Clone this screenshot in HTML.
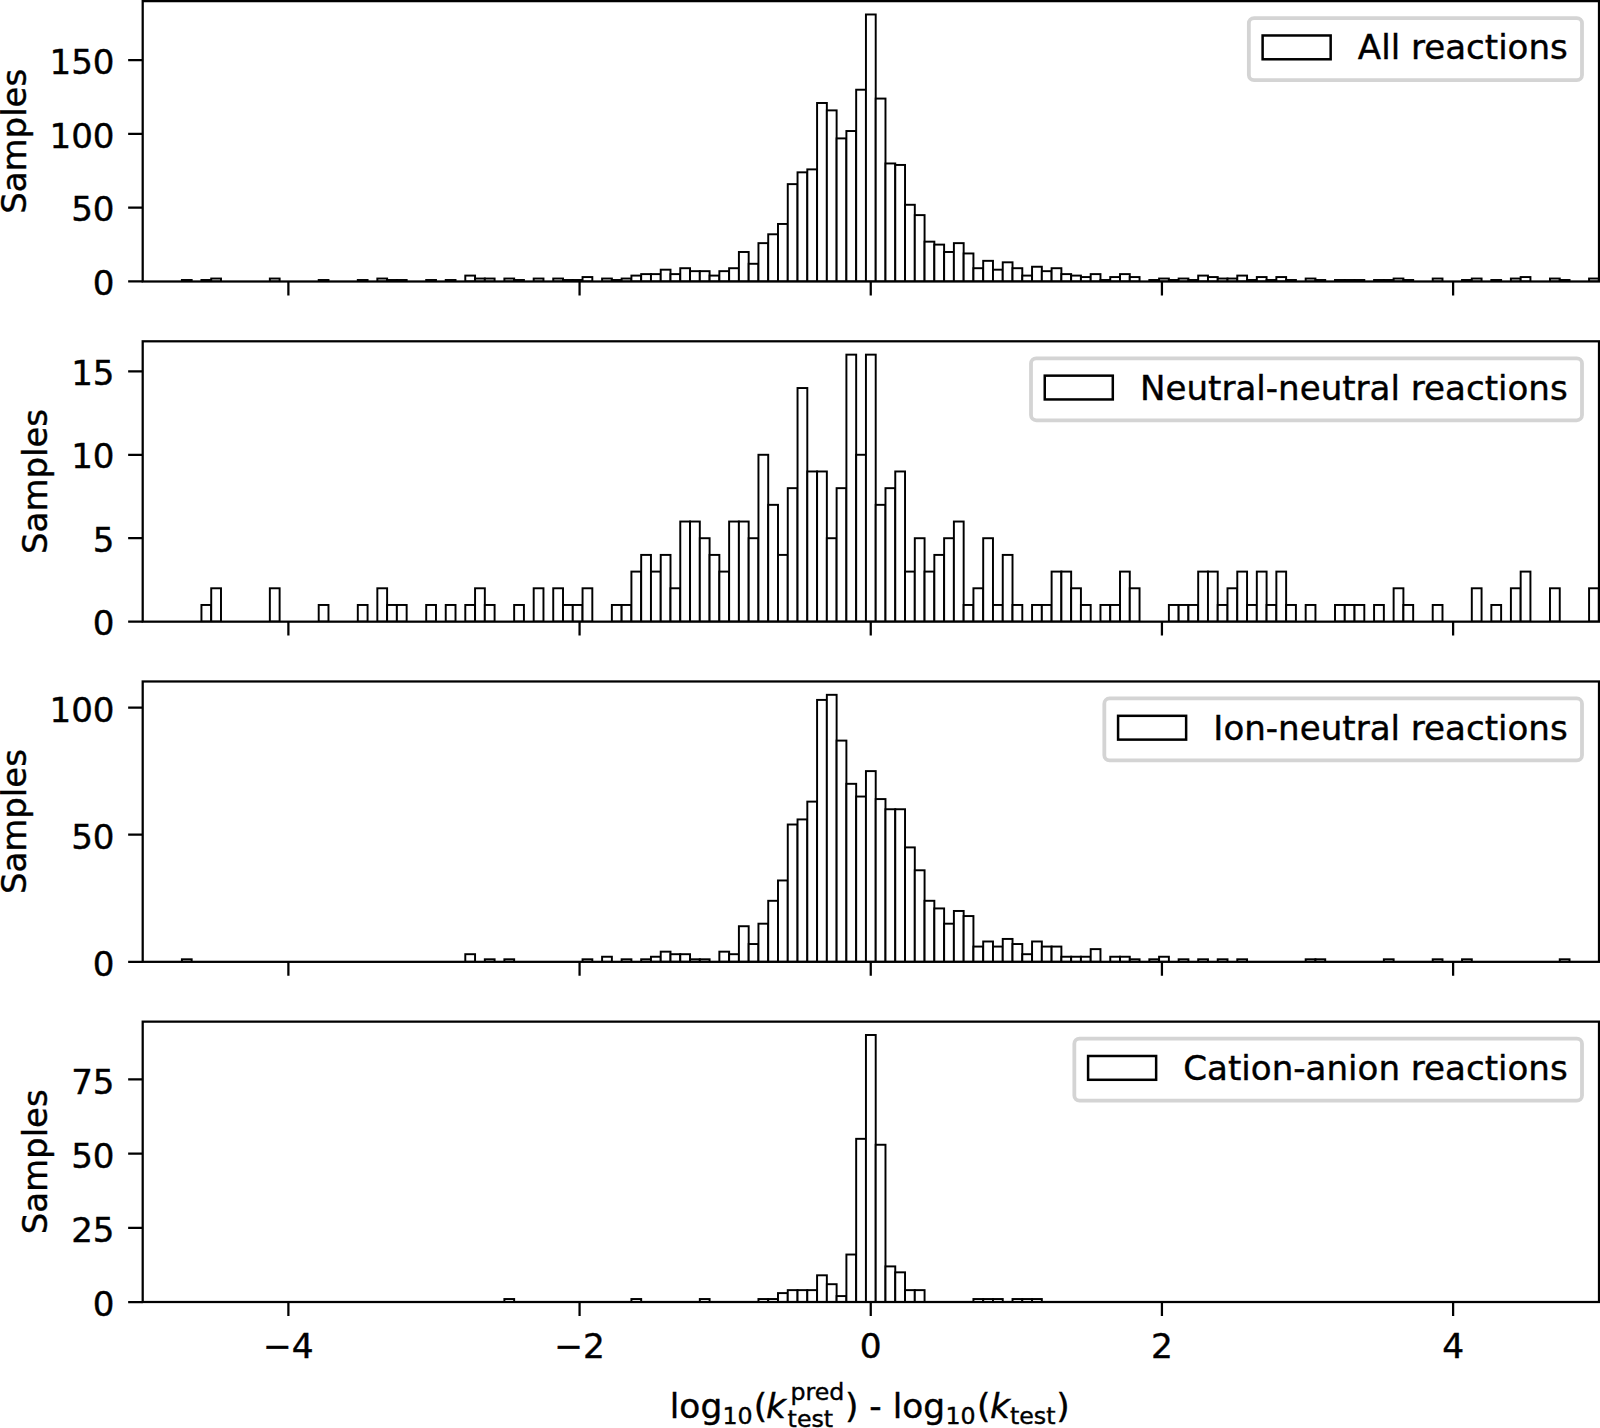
<!DOCTYPE html>
<html><head><meta charset="utf-8"><title>Histogram</title>
<style>html,body{margin:0;padding:0;background:#fff}svg{display:block}text{font-family:"DejaVu Sans","Liberation Sans",sans-serif;font-size:34.40px;fill:#000;stroke:#000;stroke-width:0.4px}.it{font-style:oblique}.sm{font-size:23.7px}</style></head>
<body>
<svg width="1600" height="1428" viewBox="0 0 1600 1428">
<rect width="1600" height="1428" fill="#fff"/>
<defs><clipPath id="c0"><rect x="142.70" y="1.13" width="1456.30" height="280.36"/></clipPath><clipPath id="c1"><rect x="142.70" y="341.30" width="1456.30" height="280.36"/></clipPath><clipPath id="c2"><rect x="142.70" y="681.47" width="1456.30" height="280.36"/></clipPath><clipPath id="c3"><rect x="142.70" y="1021.64" width="1456.30" height="280.36"/></clipPath></defs>
<g id="panel0">
<g clip-path="url(#c0)" fill="#fff" stroke="#000" stroke-width="1.95" stroke-linejoin="miter">
<rect x="181.9" y="280.01" width="9.77" height="1.48"/><rect x="201.44" y="280.01" width="9.77" height="1.48"/><rect x="211.22" y="278.54" width="9.77" height="2.95"/><rect x="269.85" y="278.54" width="9.77" height="2.95"/><rect x="318.71" y="280.01" width="9.77" height="1.48"/><rect x="357.8" y="280.01" width="9.77" height="1.48"/><rect x="377.34" y="278.54" width="9.77" height="2.95"/><rect x="387.11" y="280.01" width="9.77" height="1.48"/><rect x="396.88" y="280.01" width="9.77" height="1.48"/><rect x="426.2" y="280.01" width="9.77" height="1.48"/><rect x="445.74" y="280.01" width="9.77" height="1.48"/><rect x="465.29" y="275.59" width="9.77" height="5.9"/><rect x="475.06" y="278.54" width="9.77" height="2.95"/><rect x="484.83" y="278.54" width="9.77" height="2.95"/><rect x="504.38" y="278.54" width="9.77" height="2.95"/><rect x="514.15" y="280.01" width="9.77" height="1.48"/><rect x="533.69" y="278.54" width="9.77" height="2.95"/><rect x="553.24" y="278.54" width="9.77" height="2.95"/><rect x="563.01" y="280.01" width="9.77" height="1.48"/><rect x="572.78" y="280.01" width="9.77" height="1.48"/><rect x="582.55" y="277.06" width="9.77" height="4.43"/><rect x="602.1" y="278.54" width="9.77" height="2.95"/><rect x="611.87" y="280.01" width="9.77" height="1.48"/><rect x="621.64" y="278.54" width="9.77" height="2.95"/><rect x="631.41" y="275.59" width="9.77" height="5.9"/><rect x="641.18" y="274.11" width="9.77" height="7.38"/><rect x="650.96" y="274.11" width="9.77" height="7.38"/><rect x="660.73" y="269.69" width="9.77" height="11.8"/><rect x="670.5" y="274.11" width="9.77" height="7.38"/><rect x="680.27" y="268.21" width="9.77" height="13.28"/><rect x="690.04" y="271.16" width="9.77" height="10.33"/><rect x="699.82" y="271.16" width="9.77" height="10.33"/><rect x="709.59" y="275.59" width="9.77" height="5.9"/><rect x="719.36" y="271.16" width="9.77" height="10.33"/><rect x="729.13" y="268.21" width="9.77" height="13.28"/><rect x="738.9" y="251.99" width="9.77" height="29.5"/><rect x="748.68" y="263.79" width="9.77" height="17.7"/><rect x="758.45" y="243.14" width="9.77" height="38.35"/><rect x="768.22" y="234.28" width="9.77" height="47.21"/><rect x="777.99" y="223.96" width="9.77" height="57.53"/><rect x="787.76" y="184.13" width="9.77" height="97.36"/><rect x="797.54" y="172.33" width="9.77" height="109.16"/><rect x="807.31" y="169.38" width="9.77" height="112.11"/><rect x="817.08" y="102.99" width="9.77" height="178.5"/><rect x="826.85" y="110.37" width="9.77" height="171.12"/><rect x="836.62" y="138.4" width="9.77" height="143.09"/><rect x="846.4" y="131.02" width="9.77" height="150.47"/><rect x="856.17" y="89.72" width="9.77" height="191.77"/><rect x="865.94" y="14.48" width="9.77" height="267.01"/><rect x="875.71" y="98.57" width="9.77" height="182.92"/><rect x="885.48" y="163.47" width="9.77" height="118.02"/><rect x="895.26" y="164.95" width="9.77" height="116.54"/><rect x="905.03" y="204.78" width="9.77" height="76.71"/><rect x="914.8" y="215.11" width="9.77" height="66.38"/><rect x="924.57" y="241.66" width="9.77" height="39.83"/><rect x="934.34" y="244.61" width="9.77" height="36.88"/><rect x="944.12" y="251.99" width="9.77" height="29.5"/><rect x="953.89" y="243.14" width="9.77" height="38.35"/><rect x="963.66" y="253.46" width="9.77" height="28.03"/><rect x="973.43" y="268.21" width="9.77" height="13.28"/><rect x="983.2" y="260.84" width="9.77" height="20.65"/><rect x="992.98" y="269.69" width="9.77" height="11.8"/><rect x="1002.75" y="262.31" width="9.77" height="19.18"/><rect x="1012.52" y="268.21" width="9.77" height="13.28"/><rect x="1022.29" y="275.59" width="9.77" height="5.9"/><rect x="1032.06" y="266.74" width="9.77" height="14.75"/><rect x="1041.84" y="271.16" width="9.77" height="10.33"/><rect x="1051.61" y="268.21" width="9.77" height="13.28"/><rect x="1061.38" y="274.11" width="9.77" height="7.38"/><rect x="1071.15" y="275.59" width="9.77" height="5.9"/><rect x="1080.92" y="277.06" width="9.77" height="4.43"/><rect x="1090.7" y="274.11" width="9.77" height="7.38"/><rect x="1100.47" y="280.01" width="9.77" height="1.48"/><rect x="1110.24" y="277.06" width="9.77" height="4.43"/><rect x="1120.01" y="274.11" width="9.77" height="7.38"/><rect x="1129.78" y="277.06" width="9.77" height="4.43"/><rect x="1149.33" y="280.01" width="9.77" height="1.48"/><rect x="1159.1" y="278.54" width="9.77" height="2.95"/><rect x="1168.87" y="280.01" width="9.77" height="1.48"/><rect x="1178.64" y="278.54" width="9.77" height="2.95"/><rect x="1188.42" y="280.01" width="9.77" height="1.48"/><rect x="1198.19" y="275.59" width="9.77" height="5.9"/><rect x="1207.96" y="277.06" width="9.77" height="4.43"/><rect x="1217.73" y="278.54" width="9.77" height="2.95"/><rect x="1227.5" y="278.54" width="9.77" height="2.95"/><rect x="1237.28" y="275.59" width="9.77" height="5.9"/><rect x="1247.05" y="280.01" width="9.77" height="1.48"/><rect x="1256.82" y="277.06" width="9.77" height="4.43"/><rect x="1266.59" y="280.01" width="9.77" height="1.48"/><rect x="1276.36" y="277.06" width="9.77" height="4.43"/><rect x="1286.14" y="280.01" width="9.77" height="1.48"/><rect x="1305.68" y="278.54" width="9.77" height="2.95"/><rect x="1315.45" y="280.01" width="9.77" height="1.48"/><rect x="1335" y="280.01" width="9.77" height="1.48"/><rect x="1344.77" y="280.01" width="9.77" height="1.48"/><rect x="1354.54" y="280.01" width="9.77" height="1.48"/><rect x="1374.08" y="280.01" width="9.77" height="1.48"/><rect x="1383.86" y="280.01" width="9.77" height="1.48"/><rect x="1393.63" y="278.54" width="9.77" height="2.95"/><rect x="1403.4" y="280.01" width="9.77" height="1.48"/><rect x="1432.72" y="278.54" width="9.77" height="2.95"/><rect x="1462.03" y="280.01" width="9.77" height="1.48"/><rect x="1471.8" y="278.54" width="9.77" height="2.95"/><rect x="1491.35" y="280.01" width="9.77" height="1.48"/><rect x="1510.89" y="278.54" width="9.77" height="2.95"/><rect x="1520.66" y="277.06" width="9.77" height="4.43"/><rect x="1549.98" y="278.54" width="9.77" height="2.95"/><rect x="1559.75" y="280.01" width="9.77" height="1.48"/><rect x="1589.07" y="278.54" width="9.77" height="2.95"/>
</g>
<rect x="142.7" y="1.13" width="1456.3" height="280.36" fill="none" stroke="#000" stroke-width="2.25"/>
<path d="M288.39 281.49v13.9M579.57 281.49v13.9M870.75 281.49v13.9M1161.93 281.49v13.9M1453.11 281.49v13.9M142.7 281.49h-14.55M142.7 207.73h-14.55M142.7 133.97h-14.55M142.7 60.21h-14.55" stroke="#000" stroke-width="2.25" fill="none"/>
<text transform="translate(114.5 295.09) scale(1 1)" text-anchor="end" style="font-size:34.1px">0</text><text transform="translate(114.5 221.33) scale(1 1)" text-anchor="end" style="font-size:34.1px">50</text><text transform="translate(114.5 147.57) scale(1 1)" text-anchor="end" style="font-size:34.1px">100</text><text transform="translate(114.5 73.81) scale(1 1)" text-anchor="end" style="font-size:34.1px">150</text>
<text transform="translate(25.5 141.31) rotate(-90)" text-anchor="middle" style="font-size:33.95px">Samples</text>
<g class="legend" data-i="0"></g>
</g>
<g id="panel1">
<g clip-path="url(#c1)" fill="#fff" stroke="#000" stroke-width="1.95" stroke-linejoin="miter">
<rect x="201.44" y="604.97" width="9.77" height="16.69"/><rect x="211.22" y="588.28" width="9.77" height="33.38"/><rect x="269.85" y="588.28" width="9.77" height="33.38"/><rect x="318.71" y="604.97" width="9.77" height="16.69"/><rect x="357.8" y="604.97" width="9.77" height="16.69"/><rect x="377.34" y="588.28" width="9.77" height="33.38"/><rect x="387.11" y="604.97" width="9.77" height="16.69"/><rect x="396.88" y="604.97" width="9.77" height="16.69"/><rect x="426.2" y="604.97" width="9.77" height="16.69"/><rect x="445.74" y="604.97" width="9.77" height="16.69"/><rect x="465.29" y="604.97" width="9.77" height="16.69"/><rect x="475.06" y="588.28" width="9.77" height="33.38"/><rect x="484.83" y="604.97" width="9.77" height="16.69"/><rect x="514.15" y="604.97" width="9.77" height="16.69"/><rect x="533.69" y="588.28" width="9.77" height="33.38"/><rect x="553.24" y="588.28" width="9.77" height="33.38"/><rect x="563.01" y="604.97" width="9.77" height="16.69"/><rect x="572.78" y="604.97" width="9.77" height="16.69"/><rect x="582.55" y="588.28" width="9.77" height="33.38"/><rect x="611.87" y="604.97" width="9.77" height="16.69"/><rect x="621.64" y="604.97" width="9.77" height="16.69"/><rect x="631.41" y="571.6" width="9.77" height="50.06"/><rect x="641.18" y="554.91" width="9.77" height="66.75"/><rect x="650.96" y="571.6" width="9.77" height="50.06"/><rect x="660.73" y="554.91" width="9.77" height="66.75"/><rect x="670.5" y="588.28" width="9.77" height="33.38"/><rect x="680.27" y="521.53" width="9.77" height="100.13"/><rect x="690.04" y="521.53" width="9.77" height="100.13"/><rect x="699.82" y="538.22" width="9.77" height="83.44"/><rect x="709.59" y="554.91" width="9.77" height="66.75"/><rect x="719.36" y="571.6" width="9.77" height="50.06"/><rect x="729.13" y="521.53" width="9.77" height="100.13"/><rect x="738.9" y="521.53" width="9.77" height="100.13"/><rect x="748.68" y="538.22" width="9.77" height="83.44"/><rect x="758.45" y="454.78" width="9.77" height="166.88"/><rect x="768.22" y="504.84" width="9.77" height="116.82"/><rect x="777.99" y="554.91" width="9.77" height="66.75"/><rect x="787.76" y="488.16" width="9.77" height="133.5"/><rect x="797.54" y="388.03" width="9.77" height="233.63"/><rect x="807.31" y="471.47" width="9.77" height="150.19"/><rect x="817.08" y="471.47" width="9.77" height="150.19"/><rect x="826.85" y="538.22" width="9.77" height="83.44"/><rect x="836.62" y="488.16" width="9.77" height="133.5"/><rect x="846.4" y="354.65" width="9.77" height="267.01"/><rect x="856.17" y="454.78" width="9.77" height="166.88"/><rect x="865.94" y="354.65" width="9.77" height="267.01"/><rect x="875.71" y="504.84" width="9.77" height="116.82"/><rect x="885.48" y="488.16" width="9.77" height="133.5"/><rect x="895.26" y="471.47" width="9.77" height="150.19"/><rect x="905.03" y="571.6" width="9.77" height="50.06"/><rect x="914.8" y="538.22" width="9.77" height="83.44"/><rect x="924.57" y="571.6" width="9.77" height="50.06"/><rect x="934.34" y="554.91" width="9.77" height="66.75"/><rect x="944.12" y="538.22" width="9.77" height="83.44"/><rect x="953.89" y="521.53" width="9.77" height="100.13"/><rect x="963.66" y="604.97" width="9.77" height="16.69"/><rect x="973.43" y="588.28" width="9.77" height="33.38"/><rect x="983.2" y="538.22" width="9.77" height="83.44"/><rect x="992.98" y="604.97" width="9.77" height="16.69"/><rect x="1002.75" y="554.91" width="9.77" height="66.75"/><rect x="1012.52" y="604.97" width="9.77" height="16.69"/><rect x="1032.06" y="604.97" width="9.77" height="16.69"/><rect x="1041.84" y="604.97" width="9.77" height="16.69"/><rect x="1051.61" y="571.6" width="9.77" height="50.06"/><rect x="1061.38" y="571.6" width="9.77" height="50.06"/><rect x="1071.15" y="588.28" width="9.77" height="33.38"/><rect x="1080.92" y="604.97" width="9.77" height="16.69"/><rect x="1100.47" y="604.97" width="9.77" height="16.69"/><rect x="1110.24" y="604.97" width="9.77" height="16.69"/><rect x="1120.01" y="571.6" width="9.77" height="50.06"/><rect x="1129.78" y="588.28" width="9.77" height="33.38"/><rect x="1168.87" y="604.97" width="9.77" height="16.69"/><rect x="1178.64" y="604.97" width="9.77" height="16.69"/><rect x="1188.42" y="604.97" width="9.77" height="16.69"/><rect x="1198.19" y="571.6" width="9.77" height="50.06"/><rect x="1207.96" y="571.6" width="9.77" height="50.06"/><rect x="1217.73" y="604.97" width="9.77" height="16.69"/><rect x="1227.5" y="588.28" width="9.77" height="33.38"/><rect x="1237.28" y="571.6" width="9.77" height="50.06"/><rect x="1247.05" y="604.97" width="9.77" height="16.69"/><rect x="1256.82" y="571.6" width="9.77" height="50.06"/><rect x="1266.59" y="604.97" width="9.77" height="16.69"/><rect x="1276.36" y="571.6" width="9.77" height="50.06"/><rect x="1286.14" y="604.97" width="9.77" height="16.69"/><rect x="1305.68" y="604.97" width="9.77" height="16.69"/><rect x="1335" y="604.97" width="9.77" height="16.69"/><rect x="1344.77" y="604.97" width="9.77" height="16.69"/><rect x="1354.54" y="604.97" width="9.77" height="16.69"/><rect x="1374.08" y="604.97" width="9.77" height="16.69"/><rect x="1393.63" y="588.28" width="9.77" height="33.38"/><rect x="1403.4" y="604.97" width="9.77" height="16.69"/><rect x="1432.72" y="604.97" width="9.77" height="16.69"/><rect x="1471.8" y="588.28" width="9.77" height="33.38"/><rect x="1491.35" y="604.97" width="9.77" height="16.69"/><rect x="1510.89" y="588.28" width="9.77" height="33.38"/><rect x="1520.66" y="571.6" width="9.77" height="50.06"/><rect x="1549.98" y="588.28" width="9.77" height="33.38"/><rect x="1589.07" y="588.28" width="9.77" height="33.38"/>
</g>
<rect x="142.7" y="341.3" width="1456.3" height="280.36" fill="none" stroke="#000" stroke-width="2.25"/>
<path d="M288.39 621.66v13.9M579.57 621.66v13.9M870.75 621.66v13.9M1161.93 621.66v13.9M1453.11 621.66v13.9M142.7 621.66h-14.55M142.7 538.22h-14.55M142.7 454.78h-14.55M142.7 371.34h-14.55" stroke="#000" stroke-width="2.25" fill="none"/>
<text transform="translate(114.5 635.26) scale(1 1)" text-anchor="end" style="font-size:34.1px">0</text><text transform="translate(114.5 551.82) scale(1 1)" text-anchor="end" style="font-size:34.1px">5</text><text transform="translate(114.5 468.38) scale(1 1)" text-anchor="end" style="font-size:34.1px">10</text><text transform="translate(114.5 384.94) scale(1 1)" text-anchor="end" style="font-size:34.1px">15</text>
<text transform="translate(46.5 481.48) rotate(-90)" text-anchor="middle" style="font-size:33.95px">Samples</text>
<g class="legend" data-i="1"></g>
</g>
<g id="panel2">
<g clip-path="url(#c2)" fill="#fff" stroke="#000" stroke-width="1.95" stroke-linejoin="miter">
<rect x="181.9" y="959.29" width="9.77" height="2.54"/><rect x="465.29" y="954.2" width="9.77" height="7.63"/><rect x="484.83" y="959.29" width="9.77" height="2.54"/><rect x="504.38" y="959.29" width="9.77" height="2.54"/><rect x="582.55" y="959.29" width="9.77" height="2.54"/><rect x="602.1" y="956.74" width="9.77" height="5.09"/><rect x="621.64" y="959.29" width="9.77" height="2.54"/><rect x="641.18" y="959.29" width="9.77" height="2.54"/><rect x="650.96" y="956.74" width="9.77" height="5.09"/><rect x="660.73" y="951.66" width="9.77" height="10.17"/><rect x="670.5" y="954.2" width="9.77" height="7.63"/><rect x="680.27" y="954.2" width="9.77" height="7.63"/><rect x="690.04" y="959.29" width="9.77" height="2.54"/><rect x="699.82" y="959.29" width="9.77" height="2.54"/><rect x="719.36" y="951.66" width="9.77" height="10.17"/><rect x="729.13" y="954.2" width="9.77" height="7.63"/><rect x="738.9" y="926.23" width="9.77" height="35.6"/><rect x="748.68" y="944.03" width="9.77" height="17.8"/><rect x="758.45" y="923.69" width="9.77" height="38.14"/><rect x="768.22" y="900.8" width="9.77" height="61.03"/><rect x="777.99" y="880.46" width="9.77" height="81.37"/><rect x="787.76" y="824.51" width="9.77" height="137.32"/><rect x="797.54" y="819.42" width="9.77" height="142.41"/><rect x="807.31" y="801.62" width="9.77" height="160.21"/><rect x="817.08" y="699.91" width="9.77" height="261.92"/><rect x="826.85" y="694.82" width="9.77" height="267.01"/><rect x="836.62" y="740.59" width="9.77" height="221.24"/><rect x="846.4" y="783.82" width="9.77" height="178.01"/><rect x="856.17" y="796.54" width="9.77" height="165.29"/><rect x="865.94" y="771.11" width="9.77" height="190.72"/><rect x="875.71" y="799.08" width="9.77" height="162.75"/><rect x="885.48" y="809.25" width="9.77" height="152.58"/><rect x="895.26" y="809.25" width="9.77" height="152.58"/><rect x="905.03" y="847.4" width="9.77" height="114.43"/><rect x="914.8" y="870.28" width="9.77" height="91.55"/><rect x="924.57" y="900.8" width="9.77" height="61.03"/><rect x="934.34" y="908.43" width="9.77" height="53.4"/><rect x="944.12" y="923.69" width="9.77" height="38.14"/><rect x="953.89" y="910.97" width="9.77" height="50.86"/><rect x="963.66" y="916.06" width="9.77" height="45.77"/><rect x="973.43" y="946.57" width="9.77" height="15.26"/><rect x="983.2" y="941.49" width="9.77" height="20.34"/><rect x="992.98" y="946.57" width="9.77" height="15.26"/><rect x="1002.75" y="938.94" width="9.77" height="22.89"/><rect x="1012.52" y="944.03" width="9.77" height="17.8"/><rect x="1022.29" y="954.2" width="9.77" height="7.63"/><rect x="1032.06" y="941.49" width="9.77" height="20.34"/><rect x="1041.84" y="946.57" width="9.77" height="15.26"/><rect x="1051.61" y="946.57" width="9.77" height="15.26"/><rect x="1061.38" y="956.74" width="9.77" height="5.09"/><rect x="1071.15" y="956.74" width="9.77" height="5.09"/><rect x="1080.92" y="956.74" width="9.77" height="5.09"/><rect x="1090.7" y="949.12" width="9.77" height="12.71"/><rect x="1110.24" y="956.74" width="9.77" height="5.09"/><rect x="1120.01" y="956.74" width="9.77" height="5.09"/><rect x="1129.78" y="959.29" width="9.77" height="2.54"/><rect x="1149.33" y="959.29" width="9.77" height="2.54"/><rect x="1159.1" y="956.74" width="9.77" height="5.09"/><rect x="1178.64" y="959.29" width="9.77" height="2.54"/><rect x="1198.19" y="959.29" width="9.77" height="2.54"/><rect x="1217.73" y="959.29" width="9.77" height="2.54"/><rect x="1237.28" y="959.29" width="9.77" height="2.54"/><rect x="1305.68" y="959.29" width="9.77" height="2.54"/><rect x="1315.45" y="959.29" width="9.77" height="2.54"/><rect x="1383.86" y="959.29" width="9.77" height="2.54"/><rect x="1432.72" y="959.29" width="9.77" height="2.54"/><rect x="1462.03" y="959.29" width="9.77" height="2.54"/><rect x="1559.75" y="959.29" width="9.77" height="2.54"/>
</g>
<rect x="142.7" y="681.47" width="1456.3" height="280.36" fill="none" stroke="#000" stroke-width="2.25"/>
<path d="M288.39 961.83v13.9M579.57 961.83v13.9M870.75 961.83v13.9M1161.93 961.83v13.9M1453.11 961.83v13.9M142.7 961.83h-14.55M142.7 834.68h-14.55M142.7 707.54h-14.55" stroke="#000" stroke-width="2.25" fill="none"/>
<text transform="translate(114.5 975.83) scale(1 1)" text-anchor="end" style="font-size:34.1px">0</text><text transform="translate(114.5 848.68) scale(1 1)" text-anchor="end" style="font-size:34.1px">50</text><text transform="translate(114.5 721.54) scale(1 1)" text-anchor="end" style="font-size:34.1px">100</text>
<text transform="translate(25.5 821.65) rotate(-90)" text-anchor="middle" style="font-size:33.95px">Samples</text>
<g class="legend" data-i="2"></g>
</g>
<g id="panel3">
<g clip-path="url(#c3)" fill="#fff" stroke="#000" stroke-width="1.95" stroke-linejoin="miter">
<rect x="504.38" y="1299.03" width="9.77" height="2.97"/><rect x="631.41" y="1299.03" width="9.77" height="2.97"/><rect x="699.82" y="1299.03" width="9.77" height="2.97"/><rect x="758.45" y="1299.03" width="9.77" height="2.97"/><rect x="768.22" y="1299.03" width="9.77" height="2.97"/><rect x="777.99" y="1293.1" width="9.77" height="8.9"/><rect x="787.76" y="1290.13" width="9.77" height="11.87"/><rect x="797.54" y="1290.13" width="9.77" height="11.87"/><rect x="807.31" y="1290.13" width="9.77" height="11.87"/><rect x="817.08" y="1275.3" width="9.77" height="26.7"/><rect x="826.85" y="1284.2" width="9.77" height="17.8"/><rect x="836.62" y="1296.07" width="9.77" height="5.93"/><rect x="846.4" y="1254.53" width="9.77" height="47.47"/><rect x="856.17" y="1138.83" width="9.77" height="163.17"/><rect x="865.94" y="1034.99" width="9.77" height="267.01"/><rect x="875.71" y="1144.76" width="9.77" height="157.24"/><rect x="885.48" y="1266.4" width="9.77" height="35.6"/><rect x="895.26" y="1272.33" width="9.77" height="29.67"/><rect x="905.03" y="1290.13" width="9.77" height="11.87"/><rect x="914.8" y="1290.13" width="9.77" height="11.87"/><rect x="973.43" y="1299.03" width="9.77" height="2.97"/><rect x="983.2" y="1299.03" width="9.77" height="2.97"/><rect x="992.98" y="1299.03" width="9.77" height="2.97"/><rect x="1012.52" y="1299.03" width="9.77" height="2.97"/><rect x="1022.29" y="1299.03" width="9.77" height="2.97"/><rect x="1032.06" y="1299.03" width="9.77" height="2.97"/>
</g>
<rect x="142.7" y="1021.64" width="1456.3" height="280.36" fill="none" stroke="#000" stroke-width="2.25"/>
<path d="M288.39 1302v13.9M579.57 1302v13.9M870.75 1302v13.9M1161.93 1302v13.9M1453.11 1302v13.9M142.7 1302h-14.55M142.7 1227.83h-14.55M142.7 1153.66h-14.55M142.7 1079.49h-14.55" stroke="#000" stroke-width="2.25" fill="none"/>
<text transform="translate(114.5 1316.2) scale(1 1)" text-anchor="end" style="font-size:34.1px">0</text><text transform="translate(114.5 1242.03) scale(1 1)" text-anchor="end" style="font-size:34.1px">25</text><text transform="translate(114.5 1167.86) scale(1 1)" text-anchor="end" style="font-size:34.1px">50</text><text transform="translate(114.5 1093.69) scale(1 1)" text-anchor="end" style="font-size:34.1px">75</text>
<text transform="translate(46.5 1161.82) rotate(-90)" text-anchor="middle" style="font-size:33.95px">Samples</text>
<g class="legend" data-i="3"></g>
</g>
<rect x="1248.86" y="18.13" width="333.14" height="62" rx="5.2" ry="5.2" fill="#fff" fill-opacity="0.8" stroke="#d4d4d4" stroke-width="3.8"/><rect x="1262.61" y="35.48" width="68.05" height="23.8" fill="#fff" stroke="#000" stroke-width="2.5"/><text x="1357.86" y="59.48" style="font-size:34.1px">All reactions</text>
<rect x="1031" y="358.3" width="551" height="62" rx="5.2" ry="5.2" fill="#fff" fill-opacity="0.8" stroke="#d4d4d4" stroke-width="3.8"/><rect x="1044.75" y="375.65" width="68.05" height="23.8" fill="#fff" stroke="#000" stroke-width="2.5"/><text x="1140" y="399.65" style="font-size:34.1px">Neutral-neutral reactions</text>
<rect x="1104.33" y="698.47" width="477.67" height="62" rx="5.2" ry="5.2" fill="#fff" fill-opacity="0.8" stroke="#d4d4d4" stroke-width="3.8"/><rect x="1118.08" y="715.82" width="68.05" height="23.8" fill="#fff" stroke="#000" stroke-width="2.5"/><text x="1213.33" y="739.82" style="font-size:34.1px">Ion-neutral reactions</text>
<rect x="1074.34" y="1038.64" width="507.66" height="62" rx="5.2" ry="5.2" fill="#fff" fill-opacity="0.8" stroke="#d4d4d4" stroke-width="3.8"/><rect x="1088.09" y="1055.99" width="68.05" height="23.8" fill="#fff" stroke="#000" stroke-width="2.5"/><text x="1183.34" y="1079.99" style="font-size:34.1px">Cation-anion reactions</text>
<text x="288.39" y="1358.0" text-anchor="middle">−4</text><text x="579.57" y="1358.0" text-anchor="middle">−2</text><text x="870.75" y="1358.0" text-anchor="middle">0</text><text x="1161.93" y="1358.0" text-anchor="middle">2</text><text x="1453.11" y="1358.0" text-anchor="middle">4</text>
<text x="669.8" y="1417.6">log</text><text x="722.5" y="1424.1" class="sm">10</text><text x="753.7" y="1417.6">(</text><text x="766" y="1417.6" class="it">k</text><text x="790.4" y="1400.4" class="sm">pred</text><text x="787.6" y="1427" class="sm">test</text><text x="845" y="1417.6">) - log</text><text x="945.5" y="1424.1" class="sm">10</text><text x="977" y="1417.6">(</text><text x="990" y="1417.6" class="it">k</text><text x="1010" y="1424.1" class="sm">test</text><text x="1056.3" y="1417.6">)</text>
</svg>
</body></html>
